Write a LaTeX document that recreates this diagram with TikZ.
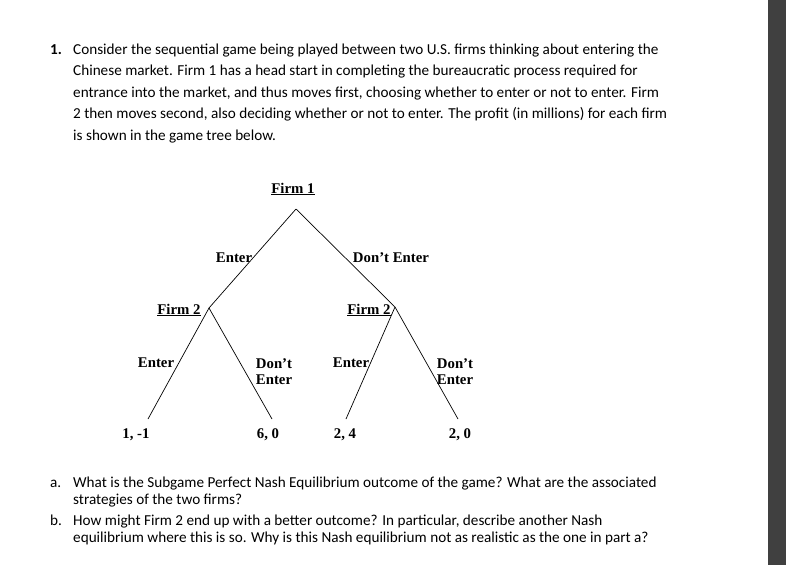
\documentclass[tikz,border=0pt]{standalone}
\usepackage{fontspec}
\setmainfont{Carlito}
\newfontfamily\treefont{Liberation Serif}
\begin{document}
\begin{tikzpicture}[x=1pt,y=-1pt,
  body/.style={anchor=base west,inner sep=0pt,font=\fontsize{15.2}{18}\selectfont},
  tl/.style={inner sep=0pt,font=\treefont\bfseries\fontsize{14.8}{16}\selectfont},
  br/.style={line width=0.7pt}]
\fill[white] (0,0) rectangle (786,565);
\fill[black!75] (768,0) rectangle (786,565);
\node[body] (n1) at (50,54) {\textbf{1.}};
\node[body] (l1) at (73,54) {Consider the sequential game being played between two U.S. firms thinking about entering the};
\node[body] (l2) at (73,75.5) {Chinese market. Firm 1 has a head start in completing the bureaucratic process required for};
\node[body] (l3) at (73,97) {entrance into the market, and thus moves first, choosing whether to enter or not to enter. Firm};
\node[body] (l4) at (73,118.5) {2 then moves second, also deciding whether or not to enter. The profit (in millions) for each firm};
\node[body] (l5) at (73,140) {is shown in the game tree below.};
\node[body] (na) at (50,487) {a.};
\node[body] (a1) at (73,487) {What is the Subgame Perfect Nash Equilibrium outcome of the game? What are the associated};
\node[body] (a2) at (73,504) {strategies of the two firms?};
\node[body] (nb) at (50,525) {b.};
\node[body] (b1) at (73,525) {How might Firm 2 end up with a better outcome? In particular, describe another Nash};
\node[body] (b2) at (73,542) {equilibrium where this is so. Why is this Nash equilibrium not as realistic as the one in part a?};
% tree
\coordinate (r) at (296,209);
\coordinate (f2l) at (209,308);
\coordinate (f2r) at (395,307);
\coordinate (ll) at (148,419);
\coordinate (lr) at (272,419);
\coordinate (rl) at (346,419);
\coordinate (rr) at (458,419);
\draw[br] (r) -- (f2l); \draw[br] (r) -- (f2r);
\draw[br] (f2l) -- (ll); \draw[br] (f2l) -- (lr);
\draw[br] (f2r) -- (rl); \draw[br] (f2r) -- (rr);
\node[tl] (t1) at (293,189) {\underline{Firm 1}};
\node[tl] (e1) at (234,258) {Enter};
\node[tl] (d1) at (391,258) {Don’t Enter};
\node[tl] (t2l) at (179,310) {\underline{Firm 2}};
\node[tl] (t2r) at (369,310) {\underline{Firm 2}};
\node[tl] (e2) at (156,363) {Enter};
\node[tl,align=left] (d2) at (274,372) {Don’t\\Enter};
\node[tl] (e3) at (351,363) {Enter};
\node[tl,align=left] (d3) at (455,372) {Don’t\\Enter};
\node[tl] (p1) at (136,435) {1, -1};
\node[tl] (p2) at (268,435) {6, 0};
\node[tl] (p3) at (345,435) {2, 4};
\node[tl] (p4) at (460,435) {2, 0};
\end{tikzpicture}
\end{document}
